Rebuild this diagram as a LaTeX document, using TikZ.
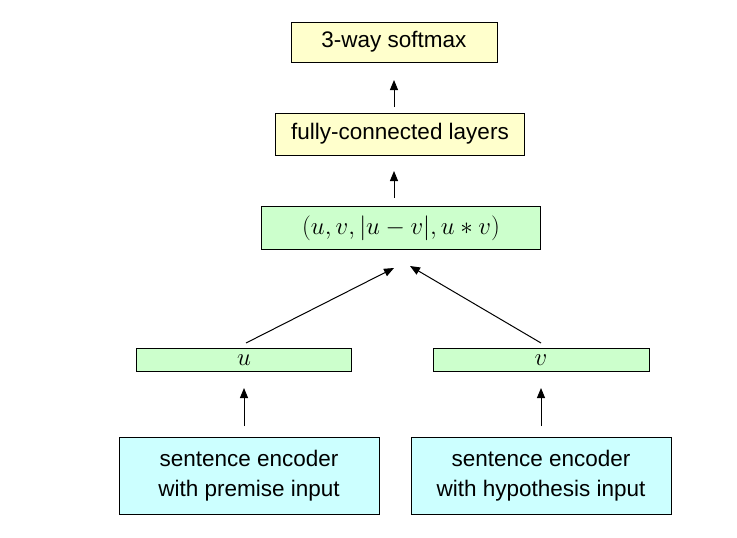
\documentclass[tikz,border=0pt]{standalone}
\usepackage{fontspec}
\setmainfont{Liberation Sans}
\usetikzlibrary{arrows.meta}
\definecolor{ylw}{HTML}{FFFFCC}
\definecolor{grn}{HTML}{CCFFCC}
\definecolor{cyn}{HTML}{CCFFFF}
\begin{document}
\begin{tikzpicture}[x=1pt,y=-1pt,
  box/.style={draw=black,line width=0.8pt,inner sep=0pt,align=center,font=\fontsize{22.5}{30}\selectfont},
  arr/.style={-{Triangle[length=10pt,width=8pt]},line width=1pt}]
\useasboundingbox (0,0) rectangle (737,538);
\node[box,fill=ylw,minimum width=206pt,minimum height=40pt] (soft) at (394,42) {3-way softmax};
\node[box,fill=ylw,minimum width=249pt,minimum height=42pt] (fc) at (400,134) {fully-connected layers};
\node[box,fill=grn,minimum width=279pt,minimum height=43pt,font=\fontsize{28}{30}\selectfont] (cat) at (401,228) {$(u,v,|u-v|,u*v)$};
\node[box,fill=grn,minimum width=215pt,minimum height=23pt,font=\fontsize{30}{30}\selectfont] (u) at (244,360) {$u$};
\node[box,fill=grn,minimum width=216pt,minimum height=23pt,font=\fontsize{30}{30}\selectfont] (v) at (541,360) {$v$};
\node[box,fill=cyn,minimum width=260pt,minimum height=77pt] (e1) at (249,476) {sentence encoder\\with premise input};
\node[box,fill=cyn,minimum width=260pt,minimum height=77pt] (e2) at (541,476) {sentence encoder\\with hypothesis input};
\coordinate (s1) at (394,107); \coordinate (t1) at (394,80);
\coordinate (s2) at (394,198); \coordinate (t2) at (394,171);
\coordinate (su) at (244,426); \coordinate (tu) at (244,388);
\coordinate (sv) at (541,426); \coordinate (tv) at (541,388);
\coordinate (cu) at (246,343); \coordinate (du) at (394,268);
\coordinate (cv) at (541,343); \coordinate (dv) at (410,266);
\draw[arr] (s1) -- (t1);
\draw[arr] (s2) -- (t2);
\draw[arr] (su) -- (tu);
\draw[arr] (sv) -- (tv);
\draw[arr] (cu) -- (du);
\draw[arr] (cv) -- (dv);
\end{tikzpicture}
\end{document}
